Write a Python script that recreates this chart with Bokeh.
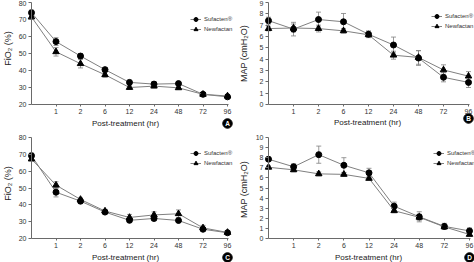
import math
from bokeh.plotting import figure
from bokeh.layouts import gridplot
from bokeh.models import (ColumnDataSource, Range1d, FixedTicker, Whisker, TeeHead,
                          Legend, LegendItem)
from bokeh.core.properties import value
from bokeh.embed import file_html
from bokeh.resources import INLINE

# ---------------- data ----------------
x_idx = [0, 1, 2, 3, 4, 5, 6, 7, 8]
hour_labels = ["", "1", "2", "6", "12", "24", "48", "72", "96"]

A_suf = [74.0, 57.0, 48.5, 40.5, 33.0, 32.0, 32.3, 26.0, 24.5]
A_suf_err = [1.5, 2.3, 1.5, 1.3, 1.3, 1.5, 1.2, 1.0, 1.0]
A_new = [71.5, 51.0, 44.0, 37.5, 30.0, 30.8, 29.8, 26.0, 25.0]
A_new_err = [1.5, 2.5, 2.5, 1.5, 1.0, 1.0, 1.0, 1.0, 1.0]

B_suf = [7.4, 6.65, 7.5, 7.3, 6.2, 5.25, 4.1, 2.4, 1.95]
B_suf_err = [0.3, 0.6, 0.65, 0.73, 0.3, 0.7, 0.65, 0.4, 0.45]
B_new = [6.7, 6.75, 6.7, 6.5, 6.15, 4.35, 4.15, 3.05, 2.5]
B_new_err = [0.2, 0.35, 0.3, 0.2, 0.2, 0.35, 0.6, 0.45, 0.4]

C_suf = [69.2, 47.5, 42.2, 35.7, 30.8, 31.9, 30.7, 25.5, 23.4]
C_suf_err = [1.5, 2.8, 1.5, 1.0, 1.0, 1.3, 1.0, 1.0, 0.8]
C_new = [67.2, 51.7, 43.2, 36.3, 32.5, 34.0, 34.7, 26.3, 23.6]
C_new_err = [1.0, 2.0, 1.0, 1.0, 1.8, 1.8, 2.3, 1.5, 1.0]

D_suf = [7.85, 7.1, 8.3, 7.25, 6.5, 3.2, 2.15, 1.2, 0.75]
D_suf_err = [0.2, 0.3, 0.85, 0.75, 0.45, 0.4, 0.5, 0.3, 0.3]
D_new = [7.05, 6.8, 6.4, 6.35, 5.95, 2.75, 2.1, 1.15, 0.4]
D_new_err = [0.15, 0.2, 0.2, 0.2, 0.15, 0.2, 0.3, 0.2, 0.15]

series_names = ["Sufacten\u00ae", "Newfactan"]
x_title = "Post-treatment (hr)"
fio2_title = "FiO\u2082 (%)"
map_title = "MAP (cmH\u2082O)"

FONT = "Liberation Sans"
LINE_C = "#808080"
AXIS_C = "#6a6a6a"
W, H = 237, 131


def make_panel(suf, suf_err, new, new_err, ymin, ymax, ystep, ytitle, letter,
               px_left, px_right, px_top, px_bottom, badge_px, legend_px,
               xtitle_px, ytitle_px):
    # whole figure is the frame; axes are pinned inside it with fixed_location
    sx = (px_right - px_left) / 8.0
    sy = (px_bottom - px_top) / float(ymax - ymin)
    xr = Range1d(0 - px_left / sx, 8 + (W - px_right) / sx)
    yr = Range1d(ymin - (H - px_bottom) / sy, ymax + px_top / sy)

    def to_data(px, py):
        return (px - px_left) / sx, ymin - (py - px_bottom) / sy

    p = figure(width=W, height=H, output_backend="svg", toolbar_location=None,
               x_range=xr, y_range=yr,
               min_border_left=0, min_border_right=0,
               min_border_top=0, min_border_bottom=0)
    p.outline_line_color = None
    p.grid.visible = False
    p.background_fill_color = "white"
    p.border_fill_color = "white"

    src = ColumnDataSource(dict(
        x=x_idx, suf=suf, new=new,
        suf_lo=[v - e for v, e in zip(suf, suf_err)],
        suf_hi=[v + e for v, e in zip(suf, suf_err)],
        new_lo=[v - e for v, e in zip(new, new_err)],
        new_hi=[v + e for v, e in zip(new, new_err)],
    ))

    for lo, hi in (("suf_lo", "suf_hi"), ("new_lo", "new_hi")):
        w = Whisker(source=src, base="x", lower=lo, upper=hi,
                    line_color=LINE_C, line_width=0.8,
                    upper_head=TeeHead(size=5, line_color=LINE_C, line_width=0.8),
                    lower_head=TeeHead(size=5, line_color=LINE_C, line_width=0.8))
        p.add_layout(w)

    l1 = p.line("x", "suf", source=src, line_color=LINE_C, line_width=1)
    s1 = p.scatter("x", "suf", source=src, marker="circle", size=6,
                   fill_color="black", line_color="black")
    l2 = p.line("x", "new", source=src, line_color=LINE_C, line_width=1)
    s2 = p.scatter("x", "new", source=src, marker="triangle", size=6.5,
                   fill_color="black", line_color="black")

    # axes
    p.xaxis.fixed_location = ymin
    p.yaxis.fixed_location = 0
    p.xaxis.bounds = (0, 8.05)
    p.yaxis.bounds = (ymin, ymax)
    p.xaxis.ticker = FixedTicker(ticks=x_idx[1:])
    p.xaxis.major_label_overrides = {i: lab for i, lab in zip(x_idx, hour_labels)}
    p.yaxis.ticker = FixedTicker(ticks=list(range(int(ymin), int(ymax) + 1, ystep)))
    for ax in (p.xaxis[0], p.yaxis[0]):
        ax.axis_line_color = AXIS_C
        ax.major_tick_line_color = AXIS_C
        ax.minor_tick_line_color = None
        ax.major_tick_in = 0
        ax.major_tick_out = 3
        ax.major_label_text_font = FONT
        ax.major_label_text_font_size = "7px"
        ax.major_label_text_color = "#333333"
        ax.major_label_standoff = 2
    p.xaxis.major_tick_out = 2

    # axis titles
    tx, ty = to_data(*xtitle_px)
    p.text([tx], [ty], text=[x_title], text_align="center", text_baseline="middle",
           text_color="#222222", text_font=value(FONT), text_font_size="8px")
    yx, yy = to_data(*ytitle_px)
    p.text([yx], [yy], text=[ytitle], angle=math.pi / 2, text_align="center",
           text_baseline="middle", text_color="#222222", text_font=value(FONT),
           text_font_size="9px")

    # legend (location = bottom-left of legend box, in px from frame bottom-left)
    lx, ltop = legend_px
    legend = Legend(items=[LegendItem(label=series_names[0], renderers=[l1, s1]),
                           LegendItem(label=series_names[1], renderers=[l2, s2])],
                    location=(lx, H - ltop - 20), padding=0, margin=0, spacing=0,
                    glyph_width=11, glyph_height=10, label_height=10,
                    label_standoff=3,
                    label_text_font=FONT, label_text_font_size="6px",
                    label_text_color="#333333",
                    border_line_color=None, background_fill_alpha=0)
    p.add_layout(legend)

    # panel badge: black disc with white letter
    bx, by = to_data(*badge_px)
    p.scatter([bx], [by], marker="circle", size=9.5, fill_color="black",
              line_color="black")
    p.text([bx], [by], text=[letter], text_align="center", text_baseline="middle",
           text_color="white", text_font=value(FONT), text_font_style="bold",
           text_font_size="6.5px")
    return p


pA = make_panel(A_suf, A_suf_err, A_new, A_new_err, 20, 80, 10, fio2_title, "A",
                px_left=31, px_right=227, px_top=2, px_bottom=104,
                badge_px=(227, 123), legend_px=(190, 14),
                xtitle_px=(125, 123), ytitle_px=(7, 48))
pB = make_panel(B_suf, B_suf_err, B_new, B_new_err, 0, 9, 1, map_title, "B",
                px_left=31, px_right=231, px_top=2, px_bottom=104,
                badge_px=(231, 118), legend_px=(194, 11),
                xtitle_px=(130, 122), ytitle_px=(6, 53))
pC = make_panel(C_suf, C_suf_err, C_new, C_new_err, 20, 80, 10, fio2_title, "C",
                px_left=31, px_right=227, px_top=6, px_bottom=107,
                badge_px=(227, 126), legend_px=(190, 17),
                xtitle_px=(125, 126), ytitle_px=(7, 52))
pD = make_panel(D_suf, D_suf_err, D_new, D_new_err, 0, 10, 1, map_title, "D",
                px_left=31, px_right=232, px_top=6, px_bottom=107,
                badge_px=(232, 126), legend_px=(196, 17),
                xtitle_px=(131, 126), ytitle_px=(6, 58))

grid = gridplot([[pA, pB], [pC, pD]], toolbar_location=None)

open("out.html", "w").write(file_html(grid, INLINE))
